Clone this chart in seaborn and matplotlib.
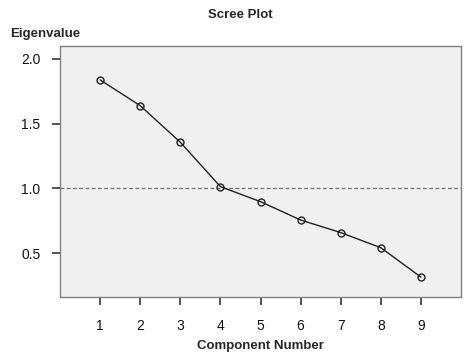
import pandas as pd
import seaborn as sns
import matplotlib.pyplot as plt

components = [1, 2, 3, 4, 5, 6, 7, 8, 9]
eigenvalues = [1.838, 1.639, 1.356, 1.013, 0.897, 0.755, 0.658, 0.541, 0.314]
y_ticks = [0.5, 1.0, 1.5, 2.0]
y_labels = ["0.5", "1.0", "1.5", "2.0"]

df = pd.DataFrame({"Component Number": components, "Eigenvalue": eigenvalues})

sns.set_style("white")
plt.rcParams['font.family'] = ['Liberation Sans', 'DejaVu Sans']

fig = plt.figure(figsize=(4.74, 3.63), dpi=100)
ax = fig.add_axes([0.1266, 0.1818, 0.8460, 0.6915])
ax.set_facecolor("#f0f0f0")

# Kaiser criterion reference line
ax.axhline(1.0, color="#707070", linestyle=(0, (3, 2)), linewidth=0.9, zorder=1)

sns.lineplot(data=df, x="Component Number", y="Eigenvalue", ax=ax,
             color="#222222", linewidth=1.0, marker="o", markersize=5,
             markerfacecolor="none", markeredgecolor="#222222",
             markeredgewidth=1.0, zorder=3)

ax.set_xlim(0, 10)
ax.set_ylim(0.16, 2.10)
ax.set_xticks(components)
ax.set_xticklabels([str(c) for c in components], fontsize=10)
ax.set_yticks(y_ticks)
ax.set_yticklabels(y_labels, fontsize=10)
ax.tick_params(axis="both", direction="out", length=6, width=1.2,
               color="#333333", labelcolor="#111111",
               bottom=True, left=True)
ax.tick_params(axis="x", pad=10)
ax.tick_params(axis="y", pad=8)

for s in ax.spines.values():
    s.set_color("#808080")
    s.set_linewidth(1.0)

ax.set_xlabel("")
ax.set_ylabel("")
fig.text(0.506, 0.958, "Scree Plot", ha="center", va="center",
         fontsize=9.5, fontweight="bold")
fig.text(0.021, 0.906, "Eigenvalue", ha="left", va="center",
         fontsize=9.5, fontweight="bold")
fig.text(0.549, 0.047, "Component Number", ha="center", va="center",
         fontsize=9.5, fontweight="bold")

fig.savefig("out.png", dpi=100)
